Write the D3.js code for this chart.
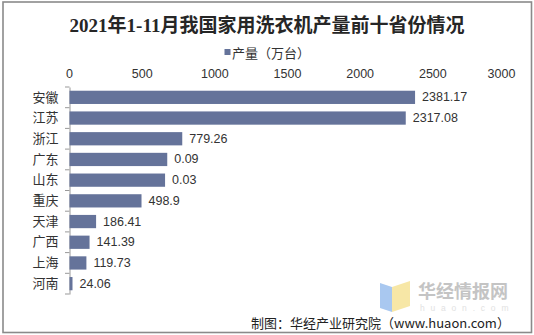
<!DOCTYPE html>
<html><head><meta charset="utf-8">
<script src="https://cdn.jsdelivr.net/npm/d3@7/dist/d3.min.js"></script>
<style>body{margin:0;background:#fff}svg{display:block}</style>
</head><body>
<script>
const categories = ["安徽","江苏","浙江","广东","山东","重庆","天津","广西","上海","河南"];
const values = [2381.17, 2317.08, 779.26, 676, 661, 498.9, 186.41, 141.39, 119.73, 24.06];
const valueLabels = ["2381.17","2317.08","779.26","0.09","0.03","498.9","186.41","141.39","119.73","24.06"];
const tickValues = [0,500,1000,1500,2000,2500,3000];
const seriesName = "产量（万台）";
const title = "2021年1-11月我国家用洗衣机产量前十省份情况";
const source = "制图：华经产业研究院（www.huaon.com）";

const W = 534, H = 335;
const svg = d3.select("body").append("svg").attr("width", W).attr("height", H);
svg.append("rect").attr("x",0).attr("y",0).attr("width",W).attr("height",H).attr("fill","#fff");
svg.append("rect").attr("x",3).attr("y",2).attr("width",528.5).attr("height",330.5)
  .attr("fill","none").attr("stroke","#8a8a8a").attr("stroke-width",1.6);

const sansCJK = "'Noto Sans CJK SC','Noto Sans',sans-serif";
const latin = "'Liberation Sans',Arial,'Noto Sans CJK SC',sans-serif";

svg.append("text").attr("x",267).attr("y",25.5).attr("text-anchor","middle")
  .attr("dominant-baseline","central")
  .style("font-family","'Liberation Serif','Noto Sans CJK SC',serif")
  .style("font-weight","bold").style("font-size","19px").attr("fill","#262626").text(title);

// legend
svg.append("rect").attr("x",224.5).attr("y",49).attr("width",6).attr("height",6).attr("fill","#65739a");
svg.append("text").attr("x",232).attr("y",52.5).attr("dominant-baseline","central")
  .style("font-family",sansCJK).style("font-size","13px").attr("fill","#333").text(seriesName);

const x = d3.scaleLinear().domain([0,3000]).range([69,505]);
const y = d3.scaleBand().domain(categories).range([87,294]).paddingInner(0.36).paddingOuter(0.18);

// top tick labels
const xAxis = d3.axisTop(x).tickValues(tickValues).tickSize(0).tickPadding(0).tickFormat(d3.format("d"));
const gx = svg.append("g").attr("transform","translate(0,78)").call(xAxis);
gx.select(".domain").remove();
gx.selectAll("text").style("font-family",latin).style("font-size","12.5px").attr("fill","#333")
  .attr("dx", d => d===3000 ? -4 : 0);

// left axis
const yAxis = d3.axisLeft(y).tickSize(0).tickPadding(11);
const gy = svg.append("g").attr("transform","translate(69.5,0)").call(yAxis);
gy.select(".domain").attr("stroke","#999").attr("stroke-width",1);
gy.selectAll("text").style("font-family",sansCJK).style("font-size","13px").attr("fill","#333");
// boundary ticks
const bounds = d3.range(categories.length+1).map(i => 87 + i*(294-87)/categories.length);
svg.append("g").selectAll("line").data(bounds).join("line")
  .attr("x1",65).attr("x2",69.5).attr("y1",d=>d).attr("y2",d=>d)
  .attr("stroke","#999").attr("stroke-width",1);

// bars
svg.append("g").selectAll("rect").data(values).join("rect")
  .attr("x", x(0)+0.5).attr("y",(d,i)=>y(categories[i]))
  .attr("width", d => x(d)-x(0)-0.5).attr("height", y.bandwidth())
  .attr("fill","#65739a");

svg.append("g").selectAll("text").data(values).join("text")
  .attr("x", d => x(d)+7).attr("y",(d,i)=>y(categories[i])+y.bandwidth()/2)
  .attr("dominant-baseline","central")
  .style("font-family",latin).style("font-size","12.5px").attr("fill","#333")
  .text((d,i)=>valueLabels[i]);

// watermark
const wm = svg.append("g");
wm.append("path").attr("d","M380,283 L392,287 L392,312 L380,308 Z").attr("fill","#a9c8f0");
wm.append("path").attr("d","M392,287 L410,281 L410,306 L392,312 Z").attr("fill","#f7e7a6");
wm.append("text").attr("x",418).attr("y",290).attr("dominant-baseline","central")
  .style("font-family",sansCJK).style("font-weight","bold").style("font-size","18px")
  .attr("fill","#c4c4c4").text("华经情报网");
wm.append("text").attr("x",420).attr("y",308).attr("dominant-baseline","central")
  .style("font-family",latin).style("font-size","8.5px").style("letter-spacing","5.8px")
  .attr("fill","#e2e2e2").text("huaon.com");

svg.append("text").attr("x",251).attr("y",322).attr("dominant-baseline","central")
  .style("font-family",sansCJK).style("font-size","13px").attr("fill","#222").text(source);
</script>
</body></html>
